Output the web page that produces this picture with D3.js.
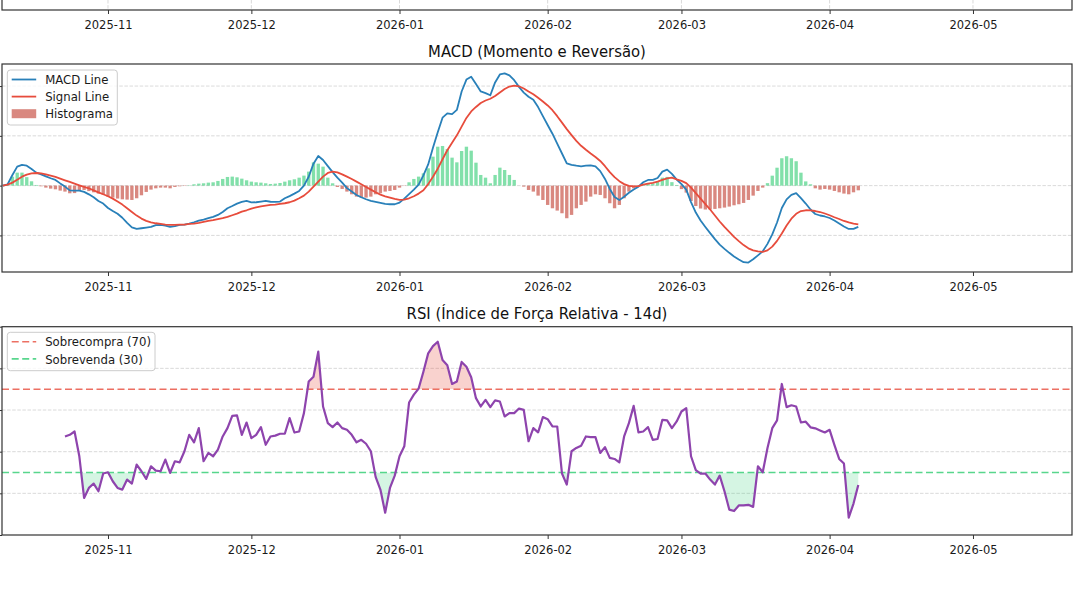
<!DOCTYPE html>
<html>
<head>
<meta charset="utf-8">
<script src="https://cdn.jsdelivr.net/npm/d3@7"></script>
<style>
  body { margin: 0; background: #fff; }
  svg { display: block; font-family: "DejaVu Sans", sans-serif; }
</style>
</head>
<body>
<svg id="chart" width="1076" height="602"></svg>
<script>
// daily series, 2025-10-10 .. 2026-04-07
const firstDay = '2025-10-10';
const lastDay = '2026-04-07';

const macdLine = [
  0, 27, 214, 381, 415, 401, 334, 261, 227, 187,
  148, 114, 45, -20, -95, -100, -100, -125, -175, -235,
  -310, -360, -450, -510, -565, -645, -750, -840, -870, -856,
  -843, -829, -793, -789, -802, -829, -815, -789, -782, -765,
  -736, -702, -682, -655, -629, -588, -528, -455, -410, -361,
  -328, -308, -336, -334, -321, -308, -324, -328, -321, -254,
  -210, -160, -107, 0, 178, 441, 595, 514, 392, 272,
  160, 60, -50, -120, -188, -234, -274, -308, -328, -348,
  -368, -374, -374, -341, -260, -170, -80, 20, 207, 425,
  760, 1070, 1365, 1450, 1435, 1520, 1890, 2130, 2187, 2040,
  1892, 1859, 1815, 2073, 2233, 2253, 2216, 2117, 1983, 1869,
  1785, 1725, 1578, 1397, 1217, 1043, 842, 645, 445, 418,
  400, 388, 401, 408, 388, 291, 134, -67, -228, -291,
  -224, -144, -77, -20, 67, 114, 114, 154, 281, 320,
  235, 120, 30, -80, -330, -540, -700, -830, -955, -1075,
  -1185, -1270, -1350, -1424, -1484, -1538, -1545, -1480, -1400, -1320,
  -1170, -980, -740, -450, -275, -185, -150, -250, -360, -480,
  -570, -600, -620, -650, -700, -760, -820, -870, -870, -830
];

const signalLine = [
  0, 20, 60, 120, 180, 221, 247, 254, 247, 227,
  201, 174, 140, 107, 74, 40, 7, -27, -53, -94,
  -134, -174, -214, -261, -321, -381, -455, -528, -602, -662,
  -709, -736, -756, -769, -782, -789, -789, -782, -782, -769,
  -762, -749, -729, -709, -695, -675, -655, -629, -595, -562,
  -522, -495, -461, -435, -415, -401, -388, -381, -368, -354,
  -334, -301, -254, -201, -120, -20, 80, 181, 254, 281,
  267, 227, 181, 134, 80, 27, -27, -80, -134, -181,
  -214, -241, -267, -288, -281, -254, -214, -160, -94, 30,
  180, 340, 530, 710, 860, 1010, 1185, 1360, 1490, 1580,
  1660, 1710, 1745, 1800, 1870, 1940, 1990, 2010, 1995, 1950,
  1890, 1835, 1765, 1690, 1610, 1515, 1395, 1265, 1135, 1015,
  900, 800, 720, 645, 575, 495, 390, 270, 170, 90,
  30, -5, -15, -10, 20, 40, 55, 80, 114, 147,
  160, 125, 95, 50, -40, -150, -260, -370, -480, -600,
  -720, -830, -930, -1030, -1115, -1195, -1260, -1300, -1320, -1330,
  -1300, -1225, -1110, -960, -800, -665, -565, -510, -495, -498,
  -510, -530, -560, -595, -635, -670, -710, -740, -765, -780
];

const histogram = [
  0, 15, 180, 261, 261, 170, 87, 13, -13, -40,
  -60, -74, -100, -120, -154, -150, -107, -87, -110, -134,
  -160, -180, -221, -241, -260, -275, -281, -288, -254, -194,
  -127, -80, -54, -40, -40, -54, -27, -13, -7, 7,
  27, 40, 47, 60, 67, 94, 134, 174, 181, 167,
  140, 107, 80, 67, 60, 47, 33, 40, 53, 80,
  107, 127, 160, 201, 281, 468, 441, 381, 160, 47,
  -27, -67, -120, -174, -221, -241, -241, -221, -174, -154,
  -120, -107, -87, -40, -5, 67, 134, 181, 247, 348,
  582, 782, 796, 736, 562, 468, 695, 782, 702, 461,
  214, 160, 47, 214, 361, 314, 214, 114, 0, -20,
  -87, -120, -201, -288, -388, -455, -501, -555, -655, -588,
  -455, -388, -321, -221, -174, -187, -254, -354, -455, -388,
  -254, -120, -54, -10, 20, 40, 45, 75, 160, 175,
  70, 13, -70, -140, -310, -410, -460, -480, -480, -468,
  -455, -441, -421, -395, -374, -348, -288, -201, -107, -40,
  50, 200, 360, 550, 590, 550, 490, 260, 85, 27,
  -54, -80, -67, -80, -107, -134, -160, -174, -134, -94
];

const rsi = [
  null, null, null, null, null, null, null, null, null, null,
  null, null, null, 47.3, 48.1, 49.7, 37.8, 17.8, 22.6, 24.7,
  21.0, 29.5, 30.1, 25.8, 22.6, 21.8, 26.6, 24.7, 33.8, 30.6,
  26.9, 33.0, 30.9, 30.6, 36.2, 29.8, 35.4, 34.9, 40.2, 48.1,
  44.5, 51.3, 35.4, 39.4, 37.8, 41.0, 47.3, 51.3, 57.2, 57.4,
  48.1, 54.0, 46.5, 48.1, 51.8, 43.3, 47.3, 47.7, 48.6, 48.6,
  56.1, 49.2, 49.7, 58.5, 73.7, 76.0, 88.0, 61.7, 53.7, 51.8,
  54.0, 51.3, 50.5, 48.1, 44.5, 45.7, 43.8, 40.2, 27.9, 21.8,
  10.7, 22.6, 28.5, 37.8, 42.6, 63.6, 67.4, 70.3, 78.4, 87.2,
  90.7, 92.8, 84.0, 81.5, 72.5, 73.7, 83.1, 80.8, 75.7, 65.7,
  61.7, 64.9, 61.4, 64.6, 64.1, 56.9, 58.5, 58.5, 60.7, 60.1,
  45.0, 51.3, 49.3, 56.6, 55.6, 52.1, 52.1, 29.5, 24.2, 40.2,
  41.8, 42.9, 47.3, 47.0, 47.0, 39.4, 42.2, 37.0, 36.5, 34.9,
  47.3, 53.7, 62.0, 49.3, 49.7, 51.8, 45.7, 46.1, 55.3, 55.0,
  51.3, 54.5, 59.3, 60.9, 37.8, 31.1, 29.5, 29.5, 26.6, 24.2,
  28.5, 21.0, 12.2, 11.5, 14.2, 14.2, 14.5, 13.5, 33.0, 30.1,
  41.8, 51.3, 55.0, 72.5, 61.4, 62.3, 61.7, 54.0, 54.4, 51.7,
  51.2, 50.2, 49.2, 50.5, 43.3, 36.5, 34.3, 8.3, 15.1, 24.0
];

const macdTicks = [-1000, 0, 1000, 2000];
const rsiTicks = [0, 20, 40, 60, 80, 100];
const overbought = 70;
const oversold = 30;

const macdTitle = 'MACD (Momento e Reversão)';
const rsiTitle = 'RSI (Índice de Força Relativa - 14d)';
const macdLabels = ['MACD Line', 'Signal Line', 'Histograma'];
const rsiLabels = ['Sobrecompra (70)', 'Sobrevenda (30)'];

const colors = {
  macd: '#2980b9',
  signal: '#e74c3c',
  up: '#2ecc71',
  down: '#c0392b',
  rsi: '#8e44ad',
  over: '#e74c3c',
  under: '#2ecc71'
};

const left = 2, right = 1072;
const topPanelBottom = 10;
const macdTop = 64, macdBottom = 272;
const rsiTop = 326.7, rsiBottom = 535;
const squeeze = 'scale(0.9,1)';

const parseDay = d3.utcParse('%Y-%m-%d');
const dates = d3.utcDay.range(parseDay(firstDay), d3.utcDay.offset(parseDay(lastDay), 1));

const svg = d3.select('#chart');

const x = d3.scaleUtc()
  .domain([new Date(Date.UTC(2025, 9, 9, 19, 40)), new Date(Date.UTC(2026, 4, 21, 17, 17))])
  .range([left, right]);

const xAxis = (g, y0) => g
  .attr('transform', `translate(0,${y0})`)
  .call(d3.axisBottom(x).ticks(d3.utcMonth.every(1)).tickFormat(d3.utcFormat('%Y-%m')).tickSize(4).tickSizeOuter(0))
  .attr('font-family', null)
  .call(g => g.select('.domain').remove())
  .call(g => g.selectAll('.tick line').attr('stroke', '#333').attr('stroke-width', 1))
  .call(g => g.selectAll('.tick text')
      .attr('y', 19).attr('dy', null)
      .attr('font-size', 12.8)
      .attr('fill', '#1a1a1a')
      .attr('transform', squeeze));

const frame = (top, bottom) => svg.append('rect')
  .attr('x', left).attr('y', top)
  .attr('width', right - left).attr('height', bottom - top)
  .attr('fill', 'none').attr('stroke', '#333').attr('stroke-width', 1.2);

const title = (text, y) => svg.append('text')
  .attr('transform', `translate(${(left + right) / 2},${y}) ${squeeze}`)
  .attr('text-anchor', 'middle')
  .attr('font-size', 16.5)
  .attr('fill', '#111')
  .text(text);

const grid = (yScale, values) => svg.append('g')
  .selectAll('line')
  .data(values)
  .join('line')
    .attr('x1', left).attr('x2', right)
    .attr('y1', d => yScale(d)).attr('y2', d => yScale(d))
    .attr('stroke', '#b0b0b0').attr('stroke-opacity', 0.6)
    .attr('stroke-width', 0.8).attr('stroke-dasharray', '3.5,1.6');

const yTicks = (yScale, values) => svg.append('g')
  .attr('transform', `translate(${left},0)`)
  .call(d3.axisLeft(yScale).tickValues(values).tickFormat('').tickSize(4))
  .call(g => g.select('.domain').remove())
  .call(g => g.selectAll('.tick line').attr('stroke', '#333'));

const legend = (x0, y0, w, h, items) => {
  const g = svg.append('g');
  g.append('rect')
    .attr('x', x0).attr('y', y0).attr('width', w).attr('height', h)
    .attr('rx', 3)
    .attr('fill', '#fff').attr('fill-opacity', 0.8)
    .attr('stroke', '#cccccc').attr('stroke-width', 1);
  const row = g.selectAll('g.item')
    .data(items)
    .join('g')
      .attr('class', 'item')
      .attr('transform', (d, i) => `translate(${x0 + 4.4},${y0 + 9.5 + i * 17.1})`);
  row.each(function(d) {
    const r = d3.select(this);
    if (d.kind === 'patch') {
      r.append('rect').attr('x', 0).attr('y', -4.5).attr('width', 24.5).attr('height', 9)
        .attr('fill', d.color).attr('fill-opacity', 0.6);
    } else {
      r.append('line').attr('x1', 0).attr('x2', 24.5)
        .attr('stroke', d.color).attr('stroke-width', d.width)
        .attr('stroke-opacity', d.opacity || 1)
        .attr('stroke-dasharray', d.dash || null);
    }
    r.append('text')
      .attr('transform', `translate(33.5,0) ${squeeze}`)
      .attr('dy', '0.36em')
      .attr('font-size', 13)
      .attr('fill', '#1a1a1a')
      .text(d.label);
  });
};

// top panel (only its lower edge is in view)
svg.append('g')
  .selectAll('line')
  .data(x.ticks(d3.utcMonth.every(1)))
  .join('line')
    .attr('x1', d => x(d)).attr('x2', d => x(d))
    .attr('y1', 0).attr('y2', topPanelBottom)
    .attr('stroke', '#b0b0b0').attr('stroke-opacity', 0.6)
    .attr('stroke-width', 0.8).attr('stroke-dasharray', '3.5,1.6');
frame(-50, topPanelBottom);
svg.append('g').call(xAxis, topPanelBottom);

// MACD panel
const macdAll = macdLine.concat(signalLine, histogram);
const [mMin, mMax] = d3.extent(macdAll);
const mPad = (mMax - mMin) * 0.05;
const yM = d3.scaleLinear().domain([mMin - mPad, mMax + mPad]).range([macdBottom, macdTop]);

grid(yM, macdTicks);

const barW = (x(dates[1]) - x(dates[0])) * 0.7;
svg.append('g')
  .selectAll('rect')
  .data(histogram)
  .join('rect')
    .attr('x', (d, i) => x(dates[i]) - barW / 2)
    .attr('width', barW)
    .attr('y', d => yM(Math.max(0, d)))
    .attr('height', d => Math.abs(yM(d) - yM(0)))
    .attr('fill', d => d > 0 ? colors.up : colors.down)
    .attr('fill-opacity', 0.6);

const macdPath = d3.line().x((d, i) => x(dates[i])).y(d => yM(d));

svg.append('path')
  .datum(macdLine)
  .attr('fill', 'none').attr('stroke', colors.macd).attr('stroke-width', 1.8)
  .attr('stroke-linejoin', 'round')
  .attr('d', macdPath);

svg.append('path')
  .datum(signalLine)
  .attr('fill', 'none').attr('stroke', colors.signal).attr('stroke-width', 1.8)
  .attr('stroke-linejoin', 'round')
  .attr('d', macdPath);

yTicks(yM, macdTicks);
frame(macdTop, macdBottom);
svg.append('g').call(xAxis, macdBottom);
title(macdTitle, macdTop - 7);

legend(7.3, 70, 110, 55, [
  { label: macdLabels[0], color: colors.macd, width: 1.8 },
  { label: macdLabels[1], color: colors.signal, width: 1.8 },
  { label: macdLabels[2], color: colors.down, kind: 'patch' }
]);

// RSI panel
const yR = d3.scaleLinear().domain([0, 100]).range([rsiBottom, rsiTop]);

grid(yR, rsiTicks.slice(1, -1));

const defs = svg.append('defs');
defs.append('clipPath').attr('id', 'above70')
  .append('rect').attr('x', left).attr('y', rsiTop)
  .attr('width', right - left).attr('height', yR(overbought) - rsiTop);
defs.append('clipPath').attr('id', 'below30')
  .append('rect').attr('x', left).attr('y', yR(oversold))
  .attr('width', right - left).attr('height', rsiBottom - yR(oversold));

const band = level => d3.area()
  .defined(d => d != null)
  .x((d, i) => x(dates[i]))
  .y0(yR(level))
  .y1(d => yR(d));

svg.append('path')
  .datum(rsi)
  .attr('clip-path', 'url(#above70)')
  .attr('fill', colors.over).attr('fill-opacity', 0.25)
  .attr('d', band(overbought));

svg.append('path')
  .datum(rsi)
  .attr('clip-path', 'url(#below30)')
  .attr('fill', colors.under).attr('fill-opacity', 0.2)
  .attr('d', band(oversold));

svg.append('line')
  .attr('x1', left).attr('x2', right)
  .attr('y1', yR(overbought)).attr('y2', yR(overbought))
  .attr('stroke', colors.over).attr('stroke-opacity', 0.8)
  .attr('stroke-width', 1.6).attr('stroke-dasharray', '7,3.5');

svg.append('line')
  .attr('x1', left).attr('x2', right)
  .attr('y1', yR(oversold)).attr('y2', yR(oversold))
  .attr('stroke', colors.under).attr('stroke-opacity', 0.8)
  .attr('stroke-width', 1.6).attr('stroke-dasharray', '7,3.5');

svg.append('path')
  .datum(rsi)
  .attr('fill', 'none').attr('stroke', colors.rsi).attr('stroke-width', 2.2)
  .attr('stroke-linejoin', 'round')
  .attr('d', d3.line().defined(d => d != null).x((d, i) => x(dates[i])).y(d => yR(d)));

yTicks(yR, rsiTicks);
frame(rsiTop, rsiBottom);
svg.append('g').call(xAxis, rsiBottom);
title(rsiTitle, rsiTop - 7.5);

legend(7.3, 332.3, 147.7, 38.4, [
  { label: rsiLabels[0], color: colors.over, width: 1.6, dash: '7,3.5', opacity: 0.8 },
  { label: rsiLabels[1], color: colors.under, width: 1.6, dash: '7,3.5', opacity: 0.8 }
]);
</script>
</body>
</html>
